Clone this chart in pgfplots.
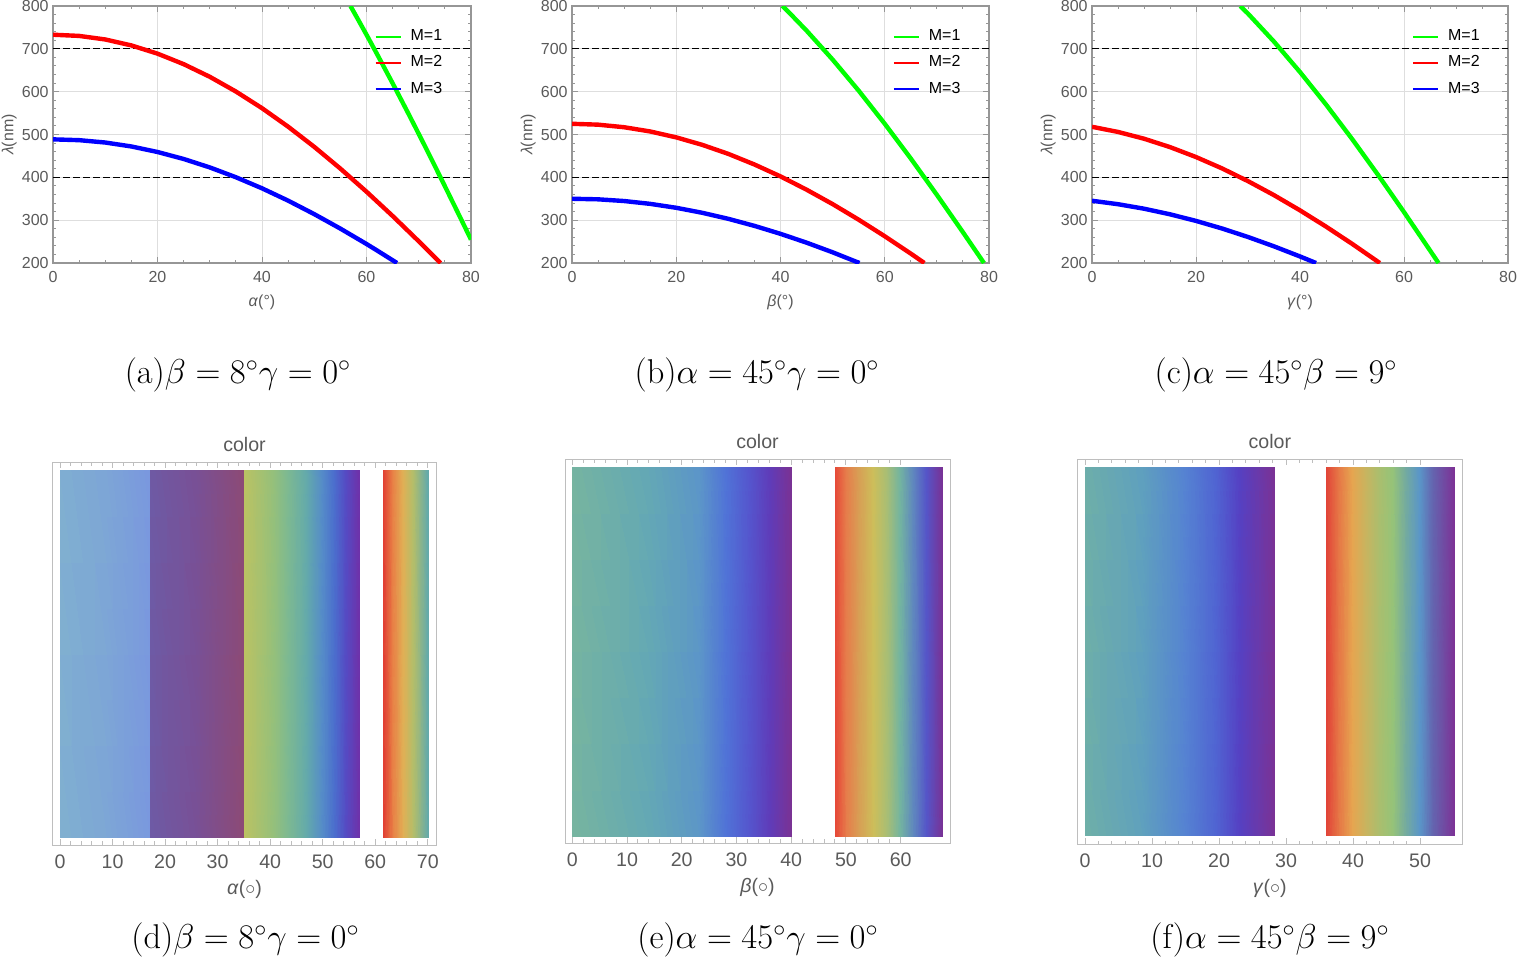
\documentclass[border=0pt]{standalone}
\usepackage{pgfplots}
\pgfplotsset{compat=1.18}
\usepackage{fontspec}
\newfontfamily\arial{Liberation Sans}
\definecolor{framegray}{RGB}{150,150,150}
\definecolor{labelgray}{RGB}{90,90,90}
\definecolor{gridgray}{RGB}{222,222,222}
\definecolor{lightframe}{RGB}{190,190,190}
\definecolor{mgreen}{RGB}{0,255,0}
\definecolor{mred}{RGB}{255,0,0}
\definecolor{mblue}{RGB}{0,0,255}

\newcommand\smallsans{\arial\fontsize{8}{9.6}\selectfont}
\newcommand\bigsans{\arial\fontsize{9.8}{11.8}\selectfont}

\pgfplotsset{
  toprow/.style={
    scale only axis, height=128.5pt,
    xmin=0, xmax=80, ymin=200, ymax=800,
    xtick={0,20,...,80}, ytick={200,300,...,800},
    minor x tick num=3, minor y tick num=4,
    tick align=inside, major tick length=3pt, minor tick length=1.7pt,
    axis line style={framegray, line width=0.6pt},
    every tick/.style={framegray, line width=0.5pt},
    xmajorgrids, ymajorgrids, major grid style={gridgray, line width=0.5pt},
    /pgf/number format/assume math mode=true,
    tick label style={font=\smallsans, text=labelgray},
    xticklabel style={anchor=base, yshift=-9.85pt},
    yticklabel style={anchor=east, inner sep=0pt, xshift=-2pt},
    label style={font=\smallsans, text=labelgray},
    xlabel style={at={(axis description cs:0.5,0)}, anchor=center, yshift=-19.5pt},
    ylabel={\textit{λ}(nm)},
    ylabel style={at={(axis description cs:-0.105,0.5)}, anchor=center},
    legend style={draw=none, fill=none, at={(0.768,0.925)}, anchor=north west,
      inner sep=0pt, font=\smallsans, text=black, row sep=2pt,
      /tikz/every odd column/.append style={column sep=2.5pt}},
    legend cell align=left,
    legend image code/.code={\draw[#1, line width=1.1pt] (0pt,0pt) -- (12.5pt,0pt);},
  },
  curve/.style={line width=2.2pt},
  guide/.style={black, line width=0.6pt, dash pattern=on 3.3pt off 1.7pt, forget plot},
  botrow/.style={
    scale only axis, ymin=0, ymax=1, ytick=\empty,
    minor x tick num=4,
    tick align=inside, major tick length=3pt, minor tick length=1.8pt,
    axis line style={lightframe, line width=0.5pt},
    every tick/.style={lightframe, line width=0.5pt},
    /pgf/number format/assume math mode=true,
    tick label style={font=\bigsans, text=labelgray},
    xticklabel style={anchor=base, yshift=-11.5pt},
    title=color,
    title style={font=\bigsans, text=labelgray, at={(0.5,1)}, anchor=south, yshift=-4.3pt},
    label style={font=\bigsans, text=labelgray},
    xlabel style={at={(axis description cs:0.5,0)}, anchor=center, yshift=-22pt},
  },
  band/.style={surf, shader=interp, mesh/color input=explicit},
}

\begin{document}
\begin{tikzpicture}[x=1pt,y=1pt]
\useasboundingbox (0,0) rectangle (759,-479.5);

% ---------- (a) wavelength vs alpha ----------
\begin{axis}[toprow, width=209pt, at={(26.5pt,-131.5pt)}, anchor=south west,
  xlabel={\textit{α}(°)}]
\addplot[guide] coordinates {(0,700) (80,700)};
\addplot[guide] coordinates {(0,400) (80,400)};
\addplot[curve, mgreen] coordinates {
  (56.93,800) (58,776.9) (60,733.0) (62,688.2) (65,619.6) (68,549.2)
  (70,501.4) (72,453.0) (75,379.4) (78,304.8) (80,254.6)};
\addplot[curve, mred] coordinates {
  (0,733) (5,730.2) (10,721.9) (15,708.0) (20,688.8) (25,664.3) (30,634.8)
  (35,600.4) (40,561.5) (45,518.3) (50,471.2) (55,420.4) (60,366.5)
  (65,309.8) (70,250.7) (72,226.5) (74.17,200)};
\addplot[curve, mblue] coordinates {
  (0,488.7) (5,486.8) (10,481.3) (15,472.1) (20,459.2) (25,442.9) (30,423.2)
  (35,400.3) (40,374.4) (45,345.6) (50,314.1) (55,280.3) (60,244.4)
  (62,229.4) (65.84,200)};
\legend{M=1,M=2,M=3}
\end{axis}

% ---------- (b) wavelength vs beta ----------
\begin{axis}[toprow, width=208.5pt, at={(286pt,-131.5pt)}, anchor=south west,
  xlabel={\textit{β}(°)}]
\addplot[guide] coordinates {(0,700) (80,700)};
\addplot[guide] coordinates {(0,400) (80,400)};
\addplot[curve, mgreen] coordinates {
  (40.36,800) (42,780.3) (45,742.5) (50,674.9) (55,602.3) (60,525.0)
  (65,443.8) (70,359.1) (75,271.8) (79.03,200)};
\addplot[curve, mred] coordinates {
  (0,525) (5,523.0) (10,517.0) (15,507.1) (20,493.3) (25,475.8) (30,454.7)
  (35,430.0) (40,402.2) (45,371.2) (50,337.5) (55,301.1) (60,262.5)
  (65,221.9) (67.6,200)};
\addplot[curve, mblue] coordinates {
  (0,350) (5,348.7) (10,344.7) (15,338.1) (20,328.9) (25,317.2) (30,303.1)
  (35,286.7) (40,268.1) (45,247.5) (50,225.0) (55.15,200)};
\legend{M=1,M=2,M=3}
\end{axis}

% ---------- (c) wavelength vs gamma ----------
\begin{axis}[toprow, width=208pt, at={(546pt,-131.5pt)}, anchor=south west,
  xlabel={\textit{γ}(°)}]
\addplot[guide] coordinates {(0,700) (80,700)};
\addplot[guide] coordinates {(0,400) (80,400)};
\addplot[curve, mgreen] coordinates {
  (28.51,800) (30,782.2) (35,716.8) (40,645.8) (45,570.0) (50,489.8)
  (55,405.8) (60,318.8) (65,229.4) (66.63,200)};
\addplot[curve, mred] coordinates {
  (0,518) (5,506.0) (10,490.2) (15,470.6) (20,447.4) (25,420.9) (30,391.1)
  (35,358.4) (40,322.9) (45,285.0) (50,244.9) (55,202.9) (55.35,200)};
\addplot[curve, mblue] coordinates {
  (0,345.3) (5,337.3) (10,326.8) (15,313.7) (20,298.3) (25,280.6)
  (30,260.7) (35,238.9) (40,215.3) (43.08,200)};
\legend{M=1,M=2,M=3}
\end{axis}

% ---------- (d) colour along alpha ----------
\begin{axis}[botrow, width=192.2pt, height=191.35pt, at={(26.15pt,-422.5pt)},
  anchor=south west, xmin=-1.47, xmax=71.7, xtick={0,10,...,70},
  xlabel={\textit{α}($\circ$)}]
\addplot[band] table[meta=c]{
x y c
0 0.02 rgb=0.502,0.686,0.816
9 0.02 rgb=0.490,0.651,0.839
17.13 0.02 rgb=0.478,0.596,0.871

0 0.978 rgb=0.502,0.686,0.816
9 0.978 rgb=0.490,0.651,0.839
17.13 0.978 rgb=0.478,0.596,0.871
};
\addplot[band] table[meta=c]{
x y c
17.13 0.02 rgb=0.431,0.353,0.647
26 0.02 rgb=0.471,0.314,0.588
35.03 0.02 rgb=0.549,0.290,0.463

17.13 0.978 rgb=0.431,0.353,0.647
26 0.978 rgb=0.471,0.314,0.588
35.03 0.978 rgb=0.549,0.290,0.463
};
\addplot[band] table[meta=c]{
x y c
35.03 0.02 rgb=0.737,0.761,0.384
40.6 0.02 rgb=0.588,0.753,0.478
43.5 0.02 rgb=0.490,0.725,0.569
47 0.02 rgb=0.392,0.667,0.667
50 0.02 rgb=0.333,0.549,0.784
52.3 0.02 rgb=0.294,0.431,0.804
54.5 0.02 rgb=0.333,0.294,0.765
56.98 0.02 rgb=0.431,0.196,0.667

35.03 0.978 rgb=0.737,0.761,0.384
40.6 0.978 rgb=0.588,0.753,0.478
43.5 0.978 rgb=0.490,0.725,0.569
47 0.978 rgb=0.392,0.667,0.667
50 0.978 rgb=0.333,0.549,0.784
52.3 0.978 rgb=0.294,0.431,0.804
54.5 0.978 rgb=0.333,0.294,0.765
56.98 0.978 rgb=0.431,0.196,0.667
};
\addplot[band] table[meta=c]{
x y c
61.55 0.02 rgb=0.882,0.235,0.196
63.5 0.02 rgb=0.910,0.510,0.275
65.4 0.02 rgb=0.882,0.686,0.333
67.3 0.02 rgb=0.706,0.745,0.412
70.1 0.02 rgb=0.392,0.667,0.667

61.55 0.978 rgb=0.882,0.235,0.196
63.5 0.978 rgb=0.910,0.510,0.275
65.4 0.978 rgb=0.882,0.686,0.333
67.3 0.978 rgb=0.706,0.745,0.412
70.1 0.978 rgb=0.392,0.667,0.667
};
\end{axis}

% ---------- (e) colour along beta ----------
\begin{axis}[botrow, width=192.5pt, height=191.85pt, at={(282.5pt,-421.5pt)},
  anchor=south west, xmin=-1.33, xmax=69.02, xtick={0,10,...,60},
  xlabel={\textit{β}($\circ$)}]
\addplot[band] table[meta=c]{
x y c
0 0.018 rgb=0.463,0.706,0.627
14 0.018 rgb=0.392,0.659,0.706
23.3 0.018 rgb=0.361,0.588,0.784
28.2 0.018 rgb=0.314,0.451,0.843
32.5 0.018 rgb=0.333,0.333,0.804
36.2 0.018 rgb=0.373,0.235,0.725
40.1 0.018 rgb=0.478,0.196,0.580

0 0.979 rgb=0.463,0.706,0.627
14 0.979 rgb=0.392,0.659,0.706
23.3 0.979 rgb=0.361,0.588,0.784
28.2 0.979 rgb=0.314,0.451,0.843
32.5 0.979 rgb=0.333,0.333,0.804
36.2 0.979 rgb=0.373,0.235,0.725
40.1 0.979 rgb=0.478,0.196,0.580
};
\addplot[band] table[meta=c]{
x y c
48.05 0.018 rgb=0.902,0.275,0.216
50.2 0.018 rgb=0.902,0.490,0.294
52.6 0.018 rgb=0.843,0.627,0.333
55.1 0.018 rgb=0.804,0.745,0.353
57.5 0.018 rgb=0.667,0.745,0.451
60 0.018 rgb=0.451,0.706,0.627
62.4 0.018 rgb=0.373,0.529,0.745
64.8 0.018 rgb=0.333,0.333,0.784
67.7 0.018 rgb=0.471,0.196,0.588

48.05 0.979 rgb=0.902,0.275,0.216
50.2 0.979 rgb=0.902,0.490,0.294
52.6 0.979 rgb=0.843,0.627,0.333
55.1 0.979 rgb=0.804,0.745,0.353
57.5 0.979 rgb=0.667,0.745,0.451
60 0.979 rgb=0.451,0.706,0.627
62.4 0.979 rgb=0.373,0.529,0.745
64.8 0.979 rgb=0.333,0.333,0.784
67.7 0.979 rgb=0.471,0.196,0.588
};
\end{axis}

% ---------- (f) colour along gamma ----------
\begin{axis}[botrow, width=192.5pt, height=192.5pt, at={(538.65pt,-422.15pt)},
  anchor=south west, xmin=-1.15, xmax=56.3, xtick={0,10,...,50},
  xlabel={\textit{γ}($\circ$)}]
\addplot[band] table[meta=c]{
x y c
0 0.022 rgb=0.431,0.686,0.659
8.7 0.022 rgb=0.373,0.627,0.745
15.1 0.022 rgb=0.333,0.510,0.824
19.6 0.022 rgb=0.314,0.392,0.824
23.1 0.022 rgb=0.333,0.255,0.765
28.3 0.022 rgb=0.478,0.196,0.588

0 0.979 rgb=0.431,0.686,0.659
8.7 0.979 rgb=0.373,0.627,0.745
15.1 0.979 rgb=0.333,0.510,0.824
19.6 0.979 rgb=0.314,0.392,0.824
23.1 0.979 rgb=0.333,0.255,0.765
28.3 0.979 rgb=0.478,0.196,0.588
};
\addplot[band] table[meta=c]{
x y c
36 0.022 rgb=0.882,0.255,0.216
38 0.022 rgb=0.902,0.471,0.275
40 0.022 rgb=0.902,0.647,0.314
42 0.022 rgb=0.784,0.706,0.373
44 0.022 rgb=0.667,0.745,0.431
46 0.022 rgb=0.588,0.765,0.471
48 0.022 rgb=0.451,0.667,0.627
50 0.022 rgb=0.353,0.588,0.784
52 0.022 rgb=0.392,0.392,0.686
55.2 0.022 rgb=0.490,0.196,0.588

36 0.979 rgb=0.882,0.255,0.216
38 0.979 rgb=0.902,0.471,0.275
40 0.979 rgb=0.902,0.647,0.314
42 0.979 rgb=0.784,0.706,0.373
44 0.979 rgb=0.667,0.745,0.431
46 0.979 rgb=0.588,0.765,0.471
48 0.979 rgb=0.451,0.667,0.627
50 0.979 rgb=0.353,0.588,0.784
52 0.979 rgb=0.392,0.392,0.686
55.2 0.979 rgb=0.490,0.196,0.588
};
\end{axis}

% ---------- sub-figure captions ----------
\begin{scope}[every node/.style={font=\fontsize{17.2}{20.6}\selectfont}]
\node at (119,-187.5) {(a)$\beta=8^\circ\gamma=0^\circ$};
\node at (378.5,-187.5) {(b)$\alpha=45^\circ\gamma=0^\circ$};
\node at (638,-187.5) {(c)$\alpha=45^\circ\beta=9^\circ$};
\node at (122.75,-470) {(d)$\beta=8^\circ\gamma=0^\circ$};
\node at (379,-470) {(e)$\alpha=45^\circ\gamma=0^\circ$};
\node at (635,-470) {(f)$\alpha=45^\circ\beta=9^\circ$};
\end{scope}
\end{tikzpicture}
\end{document}
